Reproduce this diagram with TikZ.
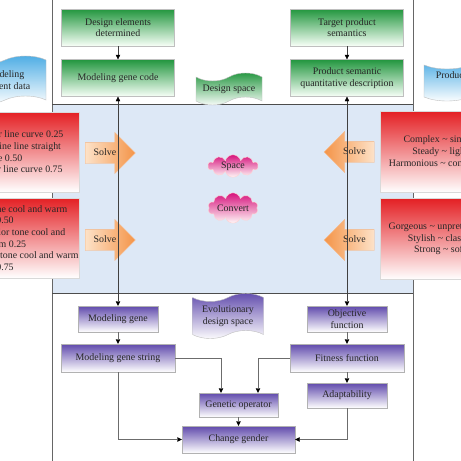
\documentclass[tikz,border=0pt]{standalone}
\usepackage{fontspec}
\setmainfont{Liberation Serif}
\usetikzlibrary{positioning,shapes.symbols,shapes.arrows,arrows.meta}

\definecolor{bandblue}{RGB}{221,232,246}
\definecolor{boxgreen}{RGB}{34,150,62}
\definecolor{boxpurple}{RGB}{96,74,172}
\definecolor{boxred}{RGB}{228,32,36}
\definecolor{solveorange}{RGB}{244,148,72}
\definecolor{solvepeach}{RGB}{253,226,200}
\definecolor{cloudpink}{RGB}{214,20,125}
\definecolor{tapeblue}{RGB}{76,172,228}

\begin{document}
\begin{tikzpicture}[x=1pt, y=-1pt, text=black!85,
    font=\fontsize{9.9}{11.7}\selectfont,
    every node/.style = {inner sep=0pt, align=center},
    greenbox/.style = {rectangle, draw=gray!50, top color=boxgreen, bottom color=green!3,
      minimum width=113pt, minimum height=37pt},
    purplebox/.style = {rectangle, draw=gray!60, top color=boxpurple, bottom color=white,
      minimum height=26pt},
    redbox/.style = {rectangle, draw=gray!30, top color=boxred, bottom color=white,
      minimum height=80pt},
    solvearrow/.style = {single arrow, draw=solveorange!70, single arrow head extend=10pt,
      minimum height=50pt, inner xsep=3pt, inner ysep=6pt, text height=6.5pt, text depth=2pt},
    pinkcloud/.style = {cloud, cloud puffs=10, aspect=2.2, draw=pink!70,
      top color=cloudpink, bottom color=pink!12, minimum width=50pt, minimum height=22pt},
    wavetape/.style = {tape, draw=gray!50, tape bend top=in and out,
      tape bend bottom=in and out, tape bend height=8pt},
    link/.style = {draw=gray!85!black, -{Triangle[black,length=4.5pt,width=4.5pt]}},
    biglink/.style = {draw=black!75, {Triangle[black,length=4.5pt,width=4.5pt]}-{Triangle[black,length=4.5pt,width=4.5pt]}}]

  \useasboundingbox (0,0) rectangle (461,461);
  \clip (0,0) rectangle (461,461);
  \fill[white] (0,0) rectangle (461,461);

  % frame and middle band
  \fill[bandblue] (52,104) rectangle (413,293);
  \draw[black!60] (52,0) -- (52,461) (413,0) -- (413,461);
  \draw[black!70] (52,104) -- (413,104) (52,293) -- (413,293);

  % scale boxes
  \node[redbox, minimum width=148pt] (lines) at (5,152)
    {Outer contour line curve 0.25\\Contour outline line straight\\line 0.50\\Inner contour line curve 0.75};
  \node[redbox, minimum width=148pt] (tones) at (5,238)
    {Main color tone cool and warm\\0.50\\Secondary color tone cool and\\warm 0.25\\Decorative color tone cool and warm\\0.75};
  \node[redbox, minimum width=120pt, minimum height=81pt] (pairsA) at (440,152)
    {Complex \textasciitilde\ simple\\Steady \textasciitilde\ light\\Harmonious \textasciitilde\ conflicting};
  \node[redbox, minimum width=120pt, minimum height=81pt] (pairsB) at (440,239)
    {Gorgeous \textasciitilde\ unpretentious\\Stylish \textasciitilde\ classic\\Strong \textasciitilde\ soft};

  \node[solvearrow, left color=solvepeach, right color=solveorange] (solveA) at (105,153) {Solve};
  \node[solvearrow, left color=solvepeach, right color=solveorange] (solveB) at (105,240) {Solve};
  \node[solvearrow, shape border rotate=180, left color=solveorange, right color=solvepeach] (solveC) at (354.5,152) {Solve};
  \node[solvearrow, shape border rotate=180, left color=solveorange, right color=solvepeach] (solveD) at (354.5,240) {Solve};

  \node[pinkcloud] (space) at (233,166) {Space};
  \node[pinkcloud] (convert) at (233,208) {Convert};

  % tapes
  \node[wavetape, top color=tapeblue, bottom color=white, minimum width=82pt, minimum height=48pt] (modeldata) at (5,80)
    {Modeling\\element data};
  \node[wavetape, top color=tapeblue, bottom color=white, minimum width=92pt, minimum height=40pt] (productdata) at (470,81)
    {Product semantic\\data};
  \node[wavetape, top color=boxgreen, bottom color=white, minimum width=66pt, minimum height=32pt] (designspace) at (229,89)
    {Design space};
  \node[wavetape, top color=boxpurple, bottom color=white, minimum width=71pt, minimum height=45pt] (evospace) at (228,316)
    {Evolutionary\\design space};

  % top boxes
  \node[greenbox] (elements) at (118,27.5) {Design elements\\determined};
  \node[greenbox] (genecode) at (118,78) {Modeling gene code};
  \node[greenbox] (target) at (347,27.5) {Target product\\semantics};
  \node[greenbox] (quantdesc) at (347,78) {Product semantic\\quantitative description};

  % bottom boxes
  \node[purplebox, minimum width=80pt] (gene) at (118,319) {Modeling gene};
  \node[purplebox, minimum width=114pt, minimum height=28pt] (genestring) at (118,358) {Modeling gene string};
  \node[purplebox, minimum width=80pt] (objective) at (347,319) {Objective\\function};
  \node[purplebox, minimum width=114pt, minimum height=28pt] (fitness) at (347,358) {Fitness function};
  \node[purplebox, minimum width=80pt, minimum height=25pt] (adapt) at (347,395.5) {Adaptability};
  \node[purplebox, minimum width=79pt, minimum height=24pt] (operator) at (238.5,405) {Genetic operator};
  \node[purplebox, minimum width=113pt, minimum height=27pt] (gender) at (238.5,439.5) {Change gender};

  % connectors
  \draw[link, draw=black!75] (elements) -- (genecode);
  \draw[link, draw=black!75] (target) -- (quantdesc);
  \draw[biglink] (genecode) -- (gene);
  \draw[biglink] (quantdesc) -- (objective);
  \draw[link] (gene) -- (genestring);
  \draw[link] (objective) -- (fitness);
  \draw[link] (fitness) -- (adapt);
  \draw[link] (genestring.east) -| ([xshift=-17.5pt]operator.north);
  \draw[link] (fitness.west) -| ([xshift=19.5pt]operator.north);
  \draw[link] (operator) -- (gender);
  \draw[link] (genestring.south) |- (gender.west);
  \draw[link] (adapt.south) |- (gender.east);
\end{tikzpicture}
\end{document}
